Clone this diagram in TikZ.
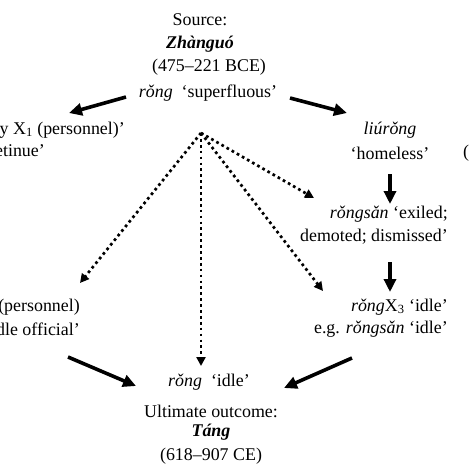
\documentclass[tikz,border=0pt]{standalone}
\usepackage{fontspec}
\setmainfont{Liberation Serif}
\usetikzlibrary{arrows.meta}
\begin{document}
\begin{tikzpicture}[x=1pt,y=-1pt,
  txt/.style={inner sep=0pt,font=\fontsize{17.9}{22}\selectfont},
  bigarrow/.style={line width=3.6pt,-{Triangle[length=13pt,width=12pt]}},
  dotarrow/.style={line width=2.7pt,dash pattern=on 2.7pt off 3.2pt,-{Triangle[length=9pt,width=9pt]}}]
\useasboundingbox (0,0) rectangle (474,474);
\clip (0,0) rectangle (474,474);
% source
\node[txt] (src1) at (200,20) {Source:};
\node[txt] (src2) at (200,44) {\textbf{\textit{Zhànguó}}};
\node[txt] (src3) at (209,67) {(475–221 BCE)};
\node[txt] (sup) at (208,93) {\textit{rǒng}\ \ ‘superfluous’};
% left
\node[txt,anchor=east] (l1) at (125,130) {y X\textsubscript{1} (personnel)’};
\node[txt,anchor=east] (l2) at (45,151) {etinue’};
\node[txt,anchor=east] (l3) at (80,307) {(personnel)};
\node[txt,anchor=east] (l4) at (80,329) {dle official’};
% right
\node[txt] (liu1) at (390,130) {\textit{liúrǒng}};
\node[txt] (liu2) at (390,153) {‘homeless’};
\node[txt,anchor=west] (rr) at (463,153) {(};
\node[txt,anchor=east] (san1) at (448,214) {\textit{rǒngsǎn} ‘exiled;};
\node[txt,anchor=east] (san2) at (448,237) {demoted; dismissed’};
\node[txt,anchor=east] (x31) at (448,307) {\textit{rǒng}X\textsubscript{3} ‘idle’};
\node[txt,anchor=east] (x32) at (448,329) {e.g. \textit{rǒngsǎn} ‘idle’};
% outcome
\node[txt] (idle) at (209,382) {\textit{rǒng}\ \ ‘idle’};
\node[txt] (ult1) at (211,411) {Ultimate outcome:};
\node[txt] (ult2) at (211,432) {\textbf{\textit{Táng}}};
\node[txt] (ult3) at (211,456) {(618–907 CE)};
% connector points
\coordinate (hub) at (201,133);
\coordinate (dl) at (80,283);
\coordinate (dr1) at (314,198);
\coordinate (dr2) at (323,291);
\coordinate (dd) at (201,366);
% solid arrows
\draw[bigarrow] (126,97) -- (69,113);
\draw[bigarrow] (290,98) -- (347,113);
\draw[bigarrow] (390,174) -- (390,204);
\draw[bigarrow] (390,262) -- (390,292);
\draw[bigarrow] (68,357) -- (136,386);
\draw[bigarrow] (352,358) -- (284,388);
% dotted arrows
\draw[dotarrow] (hub) -- (dl);
\draw[dotarrow] (hub) -- (dd);
\draw[dotarrow] (hub) -- (dr1);
\draw[dotarrow] (hub) -- (dr2);
\end{tikzpicture}
\end{document}
